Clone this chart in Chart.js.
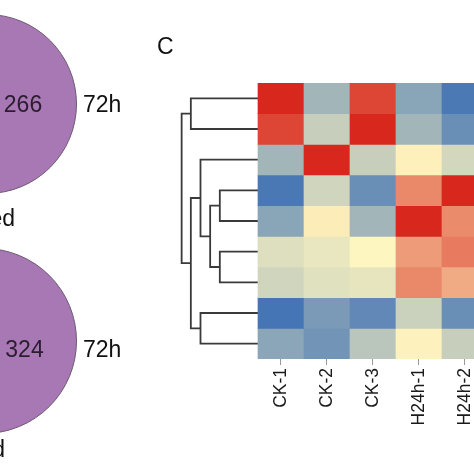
<!DOCTYPE html>
<html>
<head>
<meta charset="utf-8">
<script src="https://cdn.jsdelivr.net/npm/chart.js@4"></script>
<style>
  html, body { margin: 0; padding: 0; background: #fff; overflow: hidden; }
  #page { position: relative; width: 474px; height: 474px; overflow: hidden; font-family: 'Liberation Sans', Arial, sans-serif; }
  #page canvas { position: absolute; }
  .txt { position: absolute; font-size: 23px; line-height: 23px; white-space: nowrap; color: #111; }
</style>
</head>
<body>
<div id="page">
  <canvas id="venn1" width="180" height="180" style="left:-103.5px; top:14px;"></canvas>
  <canvas id="venn2" width="186" height="186" style="left:-109.5px; top:248px;"></canvas>
  <canvas id="heat" width="474" height="474" style="left:0; top:0;"></canvas>
  <div class="txt" style="left:23px; top:104px; transform:translate(-50%,-50%); color:#2a1d2e;">266</div>
  <div class="txt" style="left:83px; top:104px; transform:translateY(-50%);">72h</div>
  <div class="txt" style="left:-60px; width:75px; text-align:right; top:207px;">ed</div>
  <div class="txt" style="left:24.5px; top:348.5px; transform:translate(-50%,-50%); color:#2a1d2e;">324</div>
  <div class="txt" style="left:83px; top:349px; transform:translateY(-50%);">72h</div>
  <div class="txt" style="left:-70px; width:75px; text-align:right; top:438px;">d</div>
  <div class="txt" style="left:157px; top:35px;">C</div>
</div>
<script>
// venn counts (only the right edge of each circle is visible)
const vennCounts = [266, 324];

// heatmap columns and cell values (rows top to bottom)
const colLabels = ['CK-1', 'CK-2', 'CK-3', 'H24h-1', 'H24h-2'];
const row1 = [1.0, -0.5, 0.86, -0.63, -0.97];
const row2 = [0.86, -0.3, 1.0, -0.5, -0.8];
const row3 = [-0.5, 1.0, -0.3, 0.03, -0.24];
const row4 = [-0.98, -0.25, -0.8, 0.53, 1.0];
const row5 = [-0.63, 0.05, -0.5, 1.0, 0.52];
const row6 = [-0.18, -0.12, 0.0, 0.44, 0.6];
const row7 = [-0.25, -0.16, -0.13, 0.53, 0.37];
const row8 = [-1.0, -0.71, -0.85, -0.28, -0.8];
const row9 = [-0.62, -0.76, -0.37, 0.02, -0.3];
const rows = [row1, row2, row3, row4, row5, row6, row7, row8, row9];

// row dendrogram, hclust style: negative = leaf (row number), positive = earlier merge
const mergeA = [-4, -6, 1, -3, -8, -1, 4, 6];
const mergeB = [-5, -7, 2, 3, -9, -2, 5, 7];
const mergeH = [0.83, 0.83, 1.04, 1.25, 1.25, 1.46, 1.46, 1.66];

const lowCol = [69, 117, 180];
const midCol = [254, 246, 192];
const highCol = [216, 40, 30];

function cellcolor(v) {
  const end = v < 0 ? lowCol : highCol;
  const t = Math.min(Math.abs(v), 1);
  const c = midCol.map((m, i) => Math.round(m + (end[i] - m) * t));
  return 'rgb(' + c[0] + ',' + c[1] + ',' + c[2] + ')';
}

const font = "'Liberation Sans', Arial, sans-serif";
Chart.defaults.font.family = font;
Chart.defaults.animation = false;

// venn circles as single-slice pies
function makevenn(id, count) {
  new Chart(document.getElementById(id), {
    type: 'pie',
    data: {
      labels: ['72h'],
      datasets: [{
        data: [count],
        backgroundColor: '#a878b5',
        borderColor: '#6c5a72',
        borderWidth: 1,
        hoverOffset: 0
      }]
    },
    options: {
      responsive: false,
      rotation: -90,
      layout: { padding: 0 },
      events: [],
      plugins: { legend: { display: false }, tooltip: { enabled: false } }
    }
  });
}
makevenn('venn1', vennCounts[0]);
makevenn('venn2', vennCounts[1]);

// heatmap datasets, one per row
const datasets = [];
rows.forEach((vals, r) => {
  datasets.push({
    type: 'bar',
    data: vals.map((v, j) => ({ x: j, y: [r, r + 1] })),
    backgroundColor: vals.map(cellcolor),
    borderWidth: 0,
    grouped: false,
    barPercentage: 1,
    categoryPercentage: 1,
    clip: 0
  });
});

// dendrogram segments
const nodes = [];
function nodepos(id) {
  if (id < 0) return { x: -0.5, y: -id - 0.5 };
  return nodes[id - 1];
}
mergeA.forEach((a, k) => {
  const A = nodepos(a), B = nodepos(mergeB[k]);
  const x = -0.5 - mergeH[k];
  nodes.push({ x: x, y: (A.y + B.y) / 2 });
  datasets.push({
    type: 'line',
    data: [{ x: A.x, y: A.y }, { x: x, y: A.y }, { x: x, y: B.y }, { x: B.x, y: B.y }],
    borderColor: '#3a3a3a',
    borderWidth: 1.8,
    pointRadius: 0,
    tension: 0,
    fill: false
  });
});

new Chart(document.getElementById('heat'), {
  data: { datasets: datasets },
  options: {
    responsive: false,
    events: [],
    layout: { padding: { left: 170, top: 83, right: 0, bottom: 0 } },
    plugins: { legend: { display: false }, tooltip: { enabled: false } },
    scales: {
      x: {
        type: 'linear',
        offset: false,
        min: -2.413,
        max: 4.196,
        afterBuildTicks: (s) => { s.ticks = colLabels.map((l, i) => ({ value: i })); },
        afterFit: (s) => { s.height = 115; s.paddingLeft = 0; s.paddingRight = 0; },
        grid: { offset: false, drawOnChartArea: false, drawTicks: true, tickLength: 6, color: '#999' },
        border: { display: false },
        ticks: {
          autoSkip: false,
          minRotation: 90,
          maxRotation: 90,
          padding: 3,
          color: '#1a1a1a',
          font: { size: 17.5 },
          callback: (v) => colLabels[v]
        }
      },
      y: {
        type: 'linear',
        display: false,
        reverse: true,
        min: 0,
        max: 9
      }
    }
  }
});
</script>
</body>
</html>
